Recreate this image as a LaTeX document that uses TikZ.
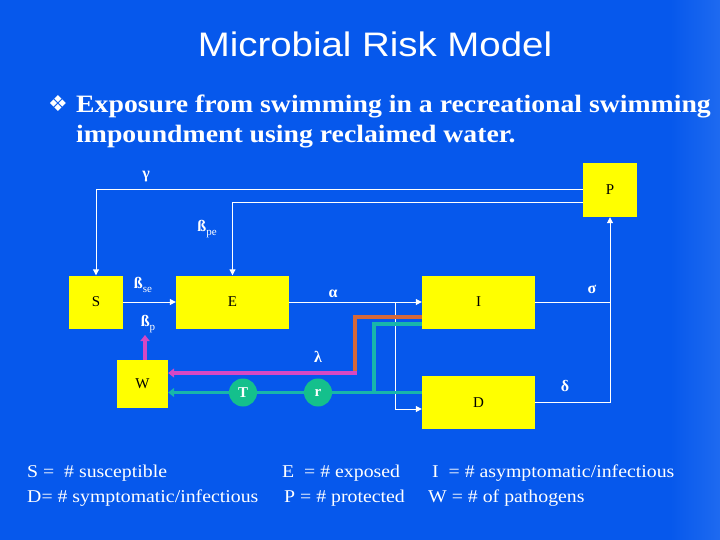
\documentclass[tikz,border=0pt]{standalone}
\usepackage{fontspec}
\setmainfont{Liberation Serif}
\newfontfamily\arialf{Liberation Sans}
\newfontfamily\dejavu{DejaVu Sans}
\usetikzlibrary{arrows.meta,calc}
\definecolor{bg}{RGB}{6,88,236}
\definecolor{bglight}{RGB}{30,106,240}
\definecolor{boxyellow}{RGB}{255,255,0}
\definecolor{orangeL}{RGB}{214,104,58}
\definecolor{magL}{RGB}{214,72,196}
\definecolor{tealL}{RGB}{24,182,170}
\definecolor{circG}{RGB}{20,192,140}
\tikzset{
  box/.style={fill=boxyellow, inner sep=0pt, minimum width=113pt, minimum height=53pt,
    font=\fontsize{15}{15}\selectfont, text=black},
  sbox/.style={box, minimum width=54pt},
  circ/.style={circle, fill=circG, minimum size=28pt, inner sep=0pt,
    font=\fontsize{15}{15}\selectfont\bfseries, text=white},
  lab/.style={text=white, font=\fontsize{16}{16}\selectfont\bfseries},
  wl/.style={draw=white, line width=1pt},
  wa/.style={-{Triangle[width=6pt,length=6pt]}},
  thick line/.style={line width=3.5pt},
  ca/.style={-{Triangle[width=9pt,length=6pt]}},
  txt/.style={text=white, inner sep=0pt, anchor=base west}
}
\begin{document}
\begin{tikzpicture}[x=1pt,y=-1pt]
\fill[bg] (0,0) rectangle (720,540);
\shade[left color=bg,right color=bglight] (670,0) rectangle (720,540);
\useasboundingbox (0,0) rectangle (720,540);

% title and bullet
\node[text=white, font=\arialf\fontsize{34}{34}\selectfont, anchor=base, xscale=1.13] (title) at (375,57) {Microbial Risk Model};
\node[txt, font=\dejavu\fontsize{22}{22}\selectfont] (bul) at (48,112) {❖};
\node[txt, font=\fontsize{25}{25}\selectfont\bfseries, xscale=1.11] (l1) at (76,113) {Exposure from swimming in a recreational swimming};
\node[txt, font=\fontsize{25}{25}\selectfont\bfseries, xscale=1.11] (l2) at (76,143) {impoundment using reclaimed water.};

% boxes
\node[sbox] (S) at (96,302) {S};
\node[box] (E) at (232.5,302) {E};
\node[box] (I) at (478.5,302) {I};
\node[sbox, minimum height=54pt] (P) at (610,190) {P};
\node[box, minimum width=51pt, minimum height=48pt] (W) at (142.5,384) {W};
\node[box] (D) at (478.5,402.5) {D};

% white connectors
\draw[wl,wa] (P.west) -| (S.north);
\draw[wl,wa] ($(P.west)+(0,13)$) -| (E.north);
\draw[wl,wa] (S.east) -- (E.west);
\draw[wl,wa] (E.east) -- (I.west);
\coordinate (br) at (395,302);
\draw[wl,wa] (br) |- ($(D.west)+(0,6.5)$);
\draw[wl,wa] (I.east) -| (P.south);
\draw[wl] (D.east) -| (P.south |- I.east);

% coloured connectors
\coordinate (oc) at (355,373);
\coordinate (tj) at (374,392.5);
\coordinate (bp) at (145,335);
\draw[orangeL, thick line] ($(I.west)+(0,15)$) -| ($(oc)+(0,1.75)$);
\draw[magL, thick line, ca] ($(oc)+(1.75,0)$) -- (oc -| W.east);
\draw[magL, thick line, ca] ($(W.north)+(2.5,0)$) -- (bp);
\draw[tealL, thick line, ca] ($(D.west)+(0,-10)$) -- ($(W.east)+(0,8.5)$);
\draw[tealL, thick line] ($(I.west)+(0,22)$) -| (tj);

\node[circ] (T) at (243,392.5) {T};
\node[circ] (r) at (318,392.5) {r};

% labels
\node[lab] (gam) at (146,177) {γ};
\node[lab] (bpe) at (207,229) {ß\raisebox{-4pt}{\fontsize{11}{11}\selectfont\mdseries pe}};
\node[lab] (bse) at (143,285) {ß\raisebox{-4pt}{\fontsize{11}{11}\selectfont\mdseries se}};
\node[lab] (bpp) at (148,324) {ß\raisebox{-4pt}{\fontsize{11}{11}\selectfont\mdseries p}};
\node[lab] (alp) at (333,294) {α};
\node[lab] (lam) at (318,357) {λ};
\node[lab] (sig) at (592,289) {σ};
\node[lab] (del) at (565,386) {δ};

% legend
\begin{scope}[every node/.style={txt, font=\fontsize{18}{18}\selectfont, xscale=1.1}]
\node (k1) at (27,477) {S =\ \ \# susceptible};
\node (k2) at (282,477) {E\ \ = \# exposed};
\node (k3) at (432,477) {I\ \ = \# asymptomatic/infectious};
\node (k4) at (27,502) {D= \# symptomatic/infectious};
\node (k5) at (284,502) {P = \# protected};
\node (k6) at (428,502) {W = \# of pathogens};
\end{scope}
\end{tikzpicture}
\end{document}
